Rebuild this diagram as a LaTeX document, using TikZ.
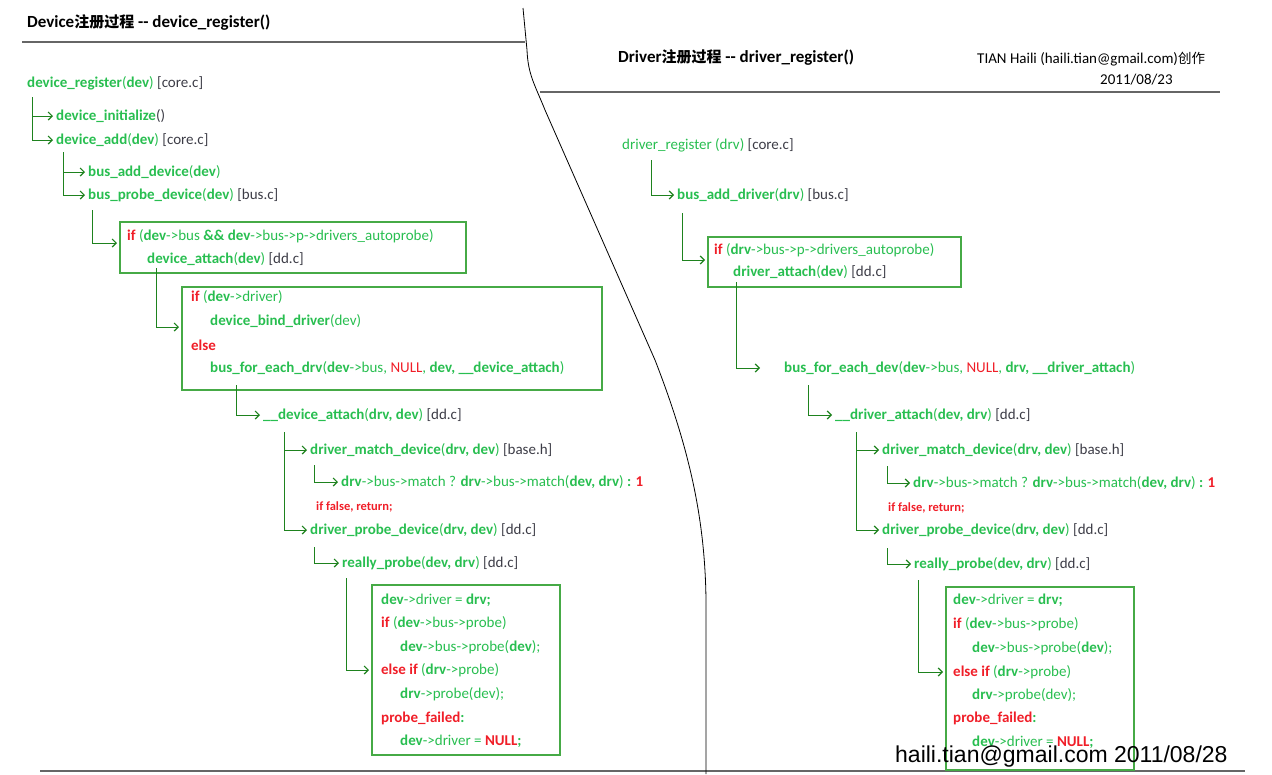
\documentclass[tikz,border=0pt]{standalone}
\usepackage{fontspec}
\setmainfont{Carlito}
\newfontfamily\cjk{Noto Sans CJK SC}
\newfontfamily\wm{Liberation Sans}
\usetikzlibrary{arrows.meta}
\definecolor{tg}{RGB}{40,190,80}
\definecolor{lg}{RGB}{30,130,30}
\definecolor{bx}{RGB}{70,170,70}
\definecolor{rd}{RGB}{240,30,40}
\definecolor{gk}{RGB}{60,60,70}
\newcommand{\fg}[1]{\textbf{\color{tg}#1}}
\newcommand{\fn}[1]{{\color{tg}#1}}
\newcommand{\fk}[1]{{\color{gk}#1}}
\newcommand{\fr}[1]{\textbf{\color{rd}#1}}
\begin{document}
\begin{tikzpicture}[x=1pt,y=-1pt,
  t/.style={anchor=west,inner sep=0pt,font=\fontsize{15}{17}\selectfont},
  hd/.style={anchor=west,inner sep=0pt,font=\fontsize{17}{19}\selectfont\bfseries},
  sm/.style={anchor=west,inner sep=0pt,font=\fontsize{12.5}{14}\selectfont\bfseries\color{rd}},
  tree/.style={draw=lg,line width=1pt,-{Straight Barb[length=4pt,width=8pt,line width=1.2pt]}},
  box/.style={draw=bx,line width=1.1pt},
  rule/.style={draw=gray!80!black,line width=1.6pt}]
\useasboundingbox (0,0) rectangle (1272,774);
% headers
\node[hd] (h1) at (27,22) {Device{\cjk\fontsize{15}{17}\selectfont 注册过程} -{}- device\_register()};
\draw[rule] (22,42) -- (525,42);
\node[hd] (h2) at (618,57) {Driver{\cjk\fontsize{15}{17}\selectfont 注册过程} -{}- driver\_register()};
\node[t] (au) at (977,59) {TIAN Haili (haili.tian@gmail.com){\cjk\fontsize{13.5}{15}\selectfont 创作}};
\node[t] (dt) at (1100,80) {2011/08/23};
\draw[rule] (540,92) -- (1220,92);
\draw[rule] (40,771) -- (1245,771);
\draw[line width=0.8pt] (523,8) -- (527,50) .. controls (528,75) and (535,85) .. (545,110) -- (655,360) .. controls (690,450) and (705,520) .. (706,600) -- (706,774);
% ===== left =====
\node[t] (a1) at (27,83) {\fg{device\_register}\fn{(}\fg{dev}\fn{)} \fk{[core.c]}};
\node[t] (a2) at (56,116) {\fg{device\_initialize}\fk{()}};
\node[t] (a3) at (56,140) {\fg{device\_add}\fn{(}\fg{dev}\fn{)} \fk{[core.c]}};
\draw[tree] (32,97) |- ([xshift=-3pt]a2.west);
\draw[tree] (32,116) |- ([xshift=-3pt]a3.west);
\node[t] (a4) at (88,172) {\fg{bus\_add\_device}\fn{(}\fg{dev}\fn{)}};
\node[t] (a5) at (88,195) {\fg{bus\_probe\_device}\fn{(}\fg{dev}\fn{)} \fk{[bus.c]}};
\draw[tree] (63,152) |- ([xshift=-3pt]a4.west);
\draw[tree] (63,172) |- ([xshift=-3pt]a5.west);
\draw[box] (120,222) rectangle (466,273);
\node[t] (b1) at (127,236) {\fr{if} \fn{(}\fg{dev}\fn{->bus} \fg{\&\&} \fg{dev}\fn{->bus->p->drivers\_autoprobe)}};
\node[t] (b2) at (147,259) {\fg{device\_attach}\fn{(}\fg{dev}\fn{)} \fk{[dd.c]}};
\draw[tree] (92,210) |- (117,243);
\draw[box] (182,287) rectangle (602,390);
\node[t] (c1) at (191,297) {\fr{if} \fn{(}\fg{dev}\fn{->driver)}};
\node[t] (c2) at (210,321) {\fg{device\_bind\_driver}\fn{(dev)}};
\node[t] (c3) at (191,345) {\fr{else}};
\node[t] (c4) at (210,368) {\fg{bus\_for\_each\_drv}\fn{(}\fg{dev}\fn{->bus,} {\color{rd}NULL}\fn{,} \fg{dev, \_\_device\_attach}\fn{)}};
\draw[tree] (156,268) |- (179,327);
\node[t] (d1) at (263,415) {\fg{\_\_device\_attach}\fn{(}\fg{drv, dev}\fn{)} \fk{[dd.c]}};
\draw[tree] (236,385) |- ([xshift=-3pt]d1.west);
\node[t] (d2) at (310,450) {\fg{driver\_match\_device}\fn{(}\fg{drv, dev}\fn{)} \fk{[base.h]}};
\node[t] (d3) at (341,482) {\fg{drv}\fn{->bus->match ?} \fg{drv}\fn{->bus->match(}\fg{dev, drv}\fn{)} \fg{:} \fr{1}};
\node[sm] (d4) at (316,507) {if false, return;};
\node[t] (d5) at (310,530) {\fg{driver\_probe\_device}\fn{(}\fg{drv, dev}\fn{)} \fk{[dd.c]}};
\node[t] (d6) at (342,563) {\fg{really\_probe}\fn{(}\fg{dev, drv}\fn{)} \fk{[dd.c]}};
\draw[tree] (284,432) |- ([xshift=-3pt]d2.west);
\draw[tree] (284,450) |- ([xshift=-3pt]d5.west);
\draw[tree] (314,465) |- ([xshift=-3pt]d3.west);
\draw[tree] (314,547) |- ([xshift=-3pt]d6.west);
\draw[box] (372,585) rectangle (560,755);
\node[t] (e1) at (381,600) {\fg{dev}\fn{->driver =} \fg{drv;}};
\node[t] (e2) at (381,623) {\fr{if} \fn{(}\fg{dev}\fn{->bus->probe)}};
\node[t] (e3) at (400,647) {\fg{dev}\fn{->bus->probe(}\fg{dev}\fn{);}};
\node[t] (e4) at (381,670) {\fr{else if} \fn{(}\fg{drv}\fn{->probe)}};
\node[t] (e5) at (400,694) {\fg{drv}\fn{->probe(dev);}};
\node[t] (e6) at (381,718) {\fr{probe\_failed}\fg{:}};
\node[t] (e7) at (400,741) {\fg{dev}\fn{->driver =} \fr{NULL}\fg{;}};
\draw[tree] (346,578) |- (369,670);
% ===== right =====
\node[t] (f1) at (622,145) {\fn{driver\_register} \fn{(drv)} \fk{[core.c]}};
\node[t] (f2) at (677,195) {\fg{bus\_add\_driver}\fn{(}\fg{drv}\fn{)} \fk{[bus.c]}};
\draw[tree] (651,160) |- ([xshift=-3pt]f2.west);
\draw[box] (708,237) rectangle (961,287);
\node[t] (g1) at (714,250) {\fr{if} \fn{(}\fg{drv}\fn{->bus->p->drivers\_autoprobe)}};
\node[t] (g2) at (733,272) {\fg{driver\_attach}\fn{(}\fg{dev}\fn{)} \fk{[dd.c]}};
\draw[tree] (682,213) |- (705,260);
\node[t] (g3) at (784,368) {\fg{bus\_for\_each\_dev}\fn{(}\fg{dev}\fn{->bus,} {\color{rd}NULL}\fn{,} \fg{drv, \_\_driver\_attach}\fn{)}};
\draw[tree] (736,282) |- (760,368);
\node[t] (h3) at (835,415) {\fg{\_\_driver\_attach}\fn{(}\fg{dev, drv}\fn{)} \fk{[dd.c]}};
\draw[tree] (808,385) |- ([xshift=-3pt]h3.west);
\node[t] (i2) at (882,450) {\fg{driver\_match\_device}\fn{(}\fg{drv, dev}\fn{)} \fk{[base.h]}};
\node[t] (i3) at (913,483) {\fg{drv}\fn{->bus->match ?} \fg{drv}\fn{->bus->match(}\fg{dev, drv}\fn{)} \fg{:} \fr{1}};
\node[sm] (i4) at (888,508) {if false, return;};
\node[t] (i5) at (882,530) {\fg{driver\_probe\_device}\fn{(}\fg{drv, dev}\fn{)} \fk{[dd.c]}};
\node[t] (i6) at (914,564) {\fg{really\_probe}\fn{(}\fg{dev, drv}\fn{)} \fk{[dd.c]}};
\draw[tree] (856,432) |- ([xshift=-3pt]i2.west);
\draw[tree] (856,450) |- ([xshift=-3pt]i5.west);
\draw[tree] (887,466) |- ([xshift=-3pt]i3.west);
\draw[tree] (887,548) |- ([xshift=-3pt]i6.west);
\draw[box] (946,587) rectangle (1134,770);
\node[t] (j1) at (953,600) {\fg{dev}\fn{->driver =} \fg{drv;}};
\node[t] (j2) at (953,624) {\fr{if} \fn{(}\fg{dev}\fn{->bus->probe)}};
\node[t] (j3) at (972,648) {\fg{dev}\fn{->bus->probe(}\fg{dev}\fn{);}};
\node[t] (j4) at (953,672) {\fr{else if} \fn{(}\fg{drv}\fn{->probe)}};
\node[t] (j5) at (972,695) {\fg{drv}\fn{->probe(dev);}};
\node[t] (j6) at (953,718) {\fr{probe\_failed}\fg{:}};
\node[t] (j7) at (972,742) {\fg{dev}\fn{->driver =} \fr{NULL}\fg{;}};
\draw[tree] (918,580) |- (943,672);
\node[anchor=west,inner sep=0pt,font=\wm\fontsize{23}{25}\selectfont] (wm) at (895,757) {haili.tian@gmail.com 2011/08/28};
\end{tikzpicture}
\end{document}
